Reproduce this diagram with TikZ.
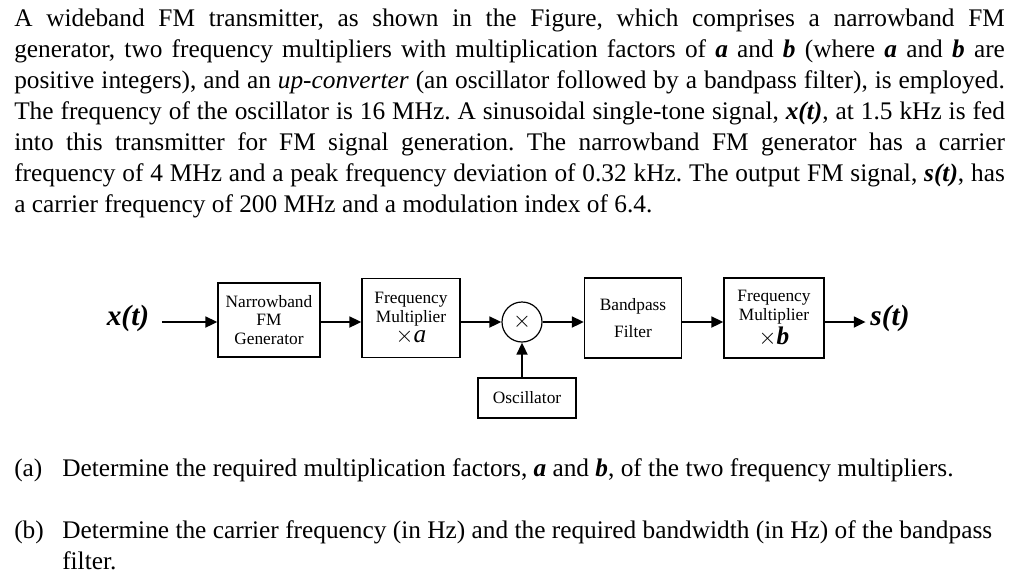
\documentclass[tikz,border=0pt]{standalone}
\usepackage{fontspec}
\setmainfont{Liberation Serif}
\usetikzlibrary{arrows.meta}
\begin{document}
\frenchspacing
\begin{tikzpicture}[x=0.75pt,y=-0.75pt,
  blk/.style={draw,line width=0.9pt,inner sep=0pt,font=\fontsize{13}{14}\selectfont,align=center},
  arr/.style={-{Triangle[length=9pt,width=8pt]},line width=2pt},
  ln/.style={anchor=base west,inner sep=0pt,font=\fontsize{19}{20}\selectfont}]
\useasboundingbox (0,0) rectangle (1024,582);
\newcommand\J[1]{\makebox[743pt][s]{#1}}
\node[ln] (l1) at (14,26) {\J{A wideband FM transmitter, as shown in the Figure, which comprises a narrowband FM}};
\node[ln] (l2) at (14,57) {\J{generator, two frequency multipliers with multiplication factors of \textbf{\textit{a}} and \textbf{\textit{b}} (where \textbf{\textit{a}} and \textbf{\textit{b}} are}};
\node[ln] (l3) at (14,88) {\J{positive integers), and an \textit{up-converter} (an oscillator followed by a bandpass filter), is employed.}};
\node[ln] (l4) at (14,119) {\J{The frequency of the oscillator is 16 MHz. A sinusoidal single-tone signal, \textbf{\textit{x(t)}}, at 1.5 kHz is fed}};
\node[ln] (l5) at (14,150) {\J{into this transmitter for FM signal generation. The narrowband FM generator has a carrier}};
\node[ln] (l6) at (14,181) {\J{frequency of 4 MHz and a peak frequency deviation of 0.32 kHz. The output FM signal, \textbf{\textit{s(t)}}, has}};
\node[ln] (l7) at (14,212) {a carrier frequency of 200 MHz and a modulation index of 6.4.};
% diagram
\node[blk,minimum width=102*0.75pt,minimum height=74*0.75pt] (nb) at (269,320) {Narrowband\\FM\\Generator};
\node[blk,minimum width=98*0.75pt,minimum height=79*0.75pt] (ma) at (411,318) {Frequency\\Multiplier\\[1pt]{\fontsize{19}{15}\selectfont$\times$\textit{a}}};
\node[draw,circle,line width=0.9pt,minimum size=40*0.75pt,inner sep=0pt] (mx) at (522,322) {\fontsize{19}{19}\selectfont$\times$};
\node[blk,minimum width=97*0.75pt,minimum height=80*0.75pt] (bp) at (633,318) {Bandpass\\[6pt]Filter};
\node[blk,minimum width=100*0.75pt,minimum height=80*0.75pt] (mb) at (774,318) {Frequency\\Multiplier\\[1pt]{\fontsize{19}{13}\selectfont$\times$\textbf{\textit{b}}}};
\node[blk,minimum width=98*0.75pt,minimum height=40*0.75pt] (osc) at (527,398) {Oscillator};
\node[font=\fontsize{22}{22}\selectfont\bfseries\itshape] (x) at (128,318) {x(t)};
\node[font=\fontsize{22}{22}\selectfont\bfseries\itshape] (s) at (890,318) {s(t)};
\draw[arr] (x.east)+(8,4) coordinate (xs) -- (nb.west|-xs);
\draw[arr] (nb.east|-mx) -- (ma.west|-mx);
\draw[arr] (ma.east|-mx) -- (mx.west);
\draw[arr] (mx.east) -- (bp.west|-mx);
\draw[arr] (bp.east|-mx) -- (mb.west|-mx);
\draw[arr] (mb.east|-mx) -- (s.west|-mx);
\draw[arr] (osc.north-|mx) -- (mx.south);
% questions
\node[ln] (qa) at (14,476) {(a)};
\node[ln] (qa2) at (62,476) {Determine the required multiplication factors, \textbf{\textit{a}} and \textbf{\textit{b}}, of the two frequency multipliers.};
\node[ln] (qb) at (14,538) {(b)};
\node[ln] (qb2) at (62,538) {Determine the carrier frequency (in Hz) and the required bandwidth (in Hz) of the bandpass};
\node[ln] (qc) at (62,569) {filter.};
\end{tikzpicture}
\end{document}
